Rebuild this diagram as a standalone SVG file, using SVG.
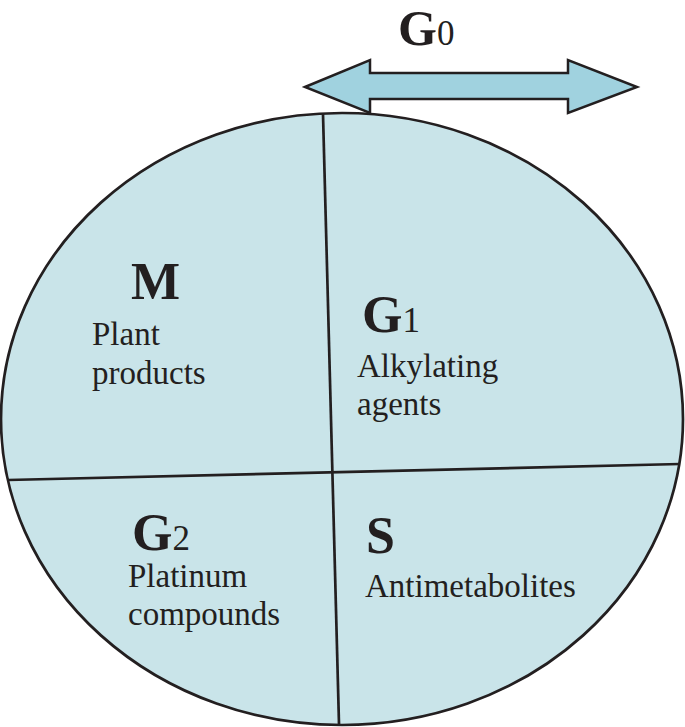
<svg xmlns="http://www.w3.org/2000/svg" width="685" height="727" viewBox="0 0 685 727">
<style>
.ln{stroke:#231f20;stroke-width:2.7;fill:none}
.big{font-family:"Liberation Serif","Times New Roman",serif;font-weight:bold;font-size:52px;fill:#231f20}
.sub{font-family:"Liberation Serif","Times New Roman",serif;font-size:35px;fill:#231f20}
.lbl{font-family:"Liberation Serif","Times New Roman",serif;font-size:33px;fill:#231f20}
</style>
<rect width="685" height="727" fill="#ffffff"/>
<g id="cell">
<ellipse cx="342" cy="419" rx="341" ry="306" class="ln" style="fill:#c9e4e9"/>
</g>
<g id="connectors">
<line class="ln" x1="323" y1="114" x2="339" y2="724"/>
<line class="ln" x1="8" y1="480" x2="680" y2="464"/>
<polygon id="g0-arrow" points="305,87 370,60 370,73 568,73 568,60 637,87 568,113 568,99 370,99 370,113" fill="#a0d2df" stroke="#231f20" stroke-width="2.5" stroke-linejoin="miter"/>
</g>
<g id="G0">
<text x="398" y="45" class="big" style="font-size:50px">G<tspan class="sub" style="font-weight:normal">0</tspan></text>
</g>
<g id="M">
<text x="131" y="299" class="big">M</text>
<text x="92" y="345" class="lbl">Plant</text>
<text x="92" y="384" class="lbl">products</text>
</g>
<g id="G1">
<text x="362" y="332" class="big">G<tspan class="sub" style="font-weight:normal">1</tspan></text>
<text x="357" y="377" class="lbl">Alkylating</text>
<text x="357" y="415" class="lbl">agents</text>
</g>
<g id="G2">
<text x="132" y="550" class="big">G<tspan class="sub" style="font-weight:normal">2</tspan></text>
<text x="128" y="587" class="lbl">Platinum</text>
<text x="128" y="625" class="lbl">compounds</text>
</g>
<g id="S">
<text x="366" y="553" class="big">S</text>
<text x="365" y="597" class="lbl">Antimetabolites</text>
</g>
</svg>
